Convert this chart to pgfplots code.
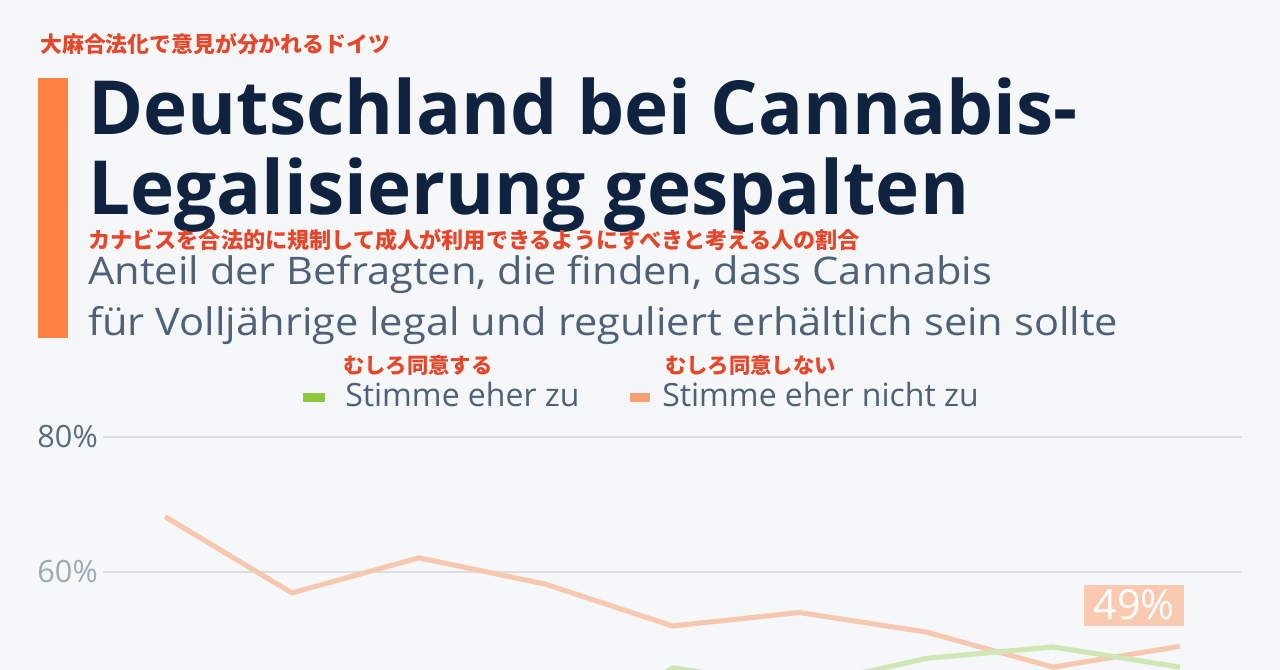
\documentclass[border=0pt]{standalone}
\usepackage{pgfplots}
\pgfplotsset{compat=1.18}
\usepackage{fontspec}
\setmainfont{Open Sans}
\newfontfamily\jp{Noto Sans CJK JP}
\definecolor{bg}{HTML}{F5F7F9}
\definecolor{titlec}{HTML}{0F2340}
\definecolor{subc}{HTML}{4D6178}
\definecolor{jpred}{HTML}{E5472B}
\definecolor{barc}{HTML}{FF8443}
\definecolor{legg}{HTML}{8DC63F}
\definecolor{lego}{HTML}{F7A072}
\definecolor{lineo}{HTML}{F7C8B0}
\definecolor{lineg}{HTML}{CFE6B5}
\definecolor{gridc}{HTML}{D9DEE4}
\definecolor{lab80}{HTML}{5A6B7C}
\definecolor{lab60}{HTML}{9DA9B5}
\definecolor{boxc}{HTML}{F9CAB0}
\begin{document}
\begin{tikzpicture}[x=0.75pt,y=0.75pt]
\useasboundingbox (0,0) rectangle (1280,670);
\clip (0,0) rectangle (1280,670);
\fill[bg] (0,0) rectangle (1280,670);
% orange bar left of the title
\fill[barc] (38,332) rectangle (68,592);
\node[anchor=base west,inner sep=0pt,text=jpred,font=\jp\bfseries\fontsize{16.4pt}{18pt}\selectfont] at (40,617) {大麻合法化で意見が分かれるドイツ};
\node[anchor=base west,inner sep=0pt,text=titlec,font=\bfseries\fontsize{56pt}{60pt}\selectfont] at (88,535) {Deutschland bei Cannabis-};
\node[anchor=base west,inner sep=0pt,text=titlec,font=\bfseries\fontsize{56pt}{60pt}\selectfont] at (88,455) {Legalisierung gespalten};
\node[anchor=base west,inner sep=0pt,text=jpred,font=\jp\bfseries\fontsize{16.6pt}{18pt}\selectfont] at (88,421) {カナビスを合法的に規制して成人が利用できるようにすべきと考える人の割合};
\node[anchor=base west,inner sep=0pt,text=subc,font=\fontsize{28.5pt}{30pt}\selectfont] at (88,385) {\scalebox{1.095}[1]{Anteil der Befragten, die finden, dass Cannabis}};
\node[anchor=base west,inner sep=0pt,text=subc,font=\fontsize{28.5pt}{30pt}\selectfont] at (88,334) {\scalebox{1.095}[1]{für Volljährige legal und reguliert erhältlich sein sollte}};
% legend
\fill[legg] (303,268) rectangle (325,277);
\node[anchor=base west,inner sep=0pt,text=subc,font=\fontsize{24pt}{27pt}\selectfont] at (345,263) {Stimme eher zu};
\node[anchor=base west,inner sep=0pt,text=jpred,font=\jp\bfseries\fontsize{16pt}{18pt}\selectfont] at (343,296) {むしろ同意する};
\fill[lego] (630,268) rectangle (650,277);
\node[anchor=base west,inner sep=0pt,text=subc,font=\fontsize{24pt}{27pt}\selectfont] at (662,263) {Stimme eher nicht zu};
\node[anchor=base west,inner sep=0pt,text=jpred,font=\jp\bfseries\fontsize{16pt}{18pt}\selectfont] at (665,296) {むしろ同意しない};
\begin{axis}[
    scale only axis,
    width=854.25pt, height=303.75pt,
    at={(77.25pt,-129pt)}, anchor=south west,
    xmin=-0.489, xmax=8.489,
    ymin=20, ymax=80,
    axis line style={draw=none},
    xtick=\empty,
    ytick={20,40,60,80},
    yticklabels={{},{},{\color{lab60}60\%},{\color{lab80}80\%}},
    major tick length=0pt,
    ymajorgrids,
    grid style={color=gridc, line width=1.1pt},
    yticklabel style={anchor=east, inner sep=0pt, xshift=-3.75pt, font=\fontsize{23pt}{25pt}\selectfont},
    clip=false,
  ]
  \addplot[color=lineo, line width=3.8pt, line join=round] coordinates {
    (0,68.2)(1,56.9)(2,62.1)(3,58.2)(4,52.0)(5,54.0)(6,51.1)(7,45.9)(8,49.0)};
  \addplot[color=lineg, line width=3.8pt, line join=round] coordinates {
    (0,24)(1,35)(2,29)(3,34)(4,45.8)(5,43)(6,47.2)(7,48.9)(8,45.9)};
  \node[fill=boxc, text=white, font=\fontsize{31pt}{33pt}\selectfont, inner xsep=7pt, inner ysep=4pt] at (axis cs:7.64,55.1) {49\%};
\end{axis}
\end{tikzpicture}
\end{document}
